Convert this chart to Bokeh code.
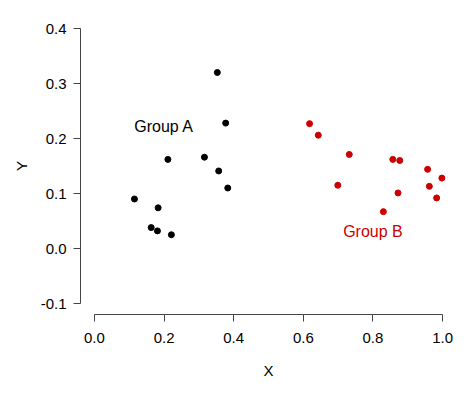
from bokeh.plotting import figure
from bokeh.models import Range1d, FixedTicker
from bokeh.core.properties import value
from bokeh.embed import file_html
from bokeh.resources import INLINE

# Data
group_a_x = [0.353, 0.377, 0.211, 0.316, 0.357, 0.383, 0.115, 0.183, 0.163, 0.181, 0.221]
group_a_y = [0.320, 0.228, 0.162, 0.166, 0.141, 0.110, 0.090, 0.074, 0.038, 0.032, 0.025]
group_b_x = [0.618, 0.643, 0.732, 0.699, 0.857, 0.877, 0.872, 0.830, 0.957, 0.962, 0.998, 0.983]
group_b_y = [0.227, 0.206, 0.171, 0.115, 0.162, 0.160, 0.101, 0.067, 0.144, 0.113, 0.128, 0.092]
labels = ["Group A", "Group B"]
label_x = [0.2, 0.8]
label_y = [0.221, 0.031]
x_ticks = [0.0, 0.2, 0.4, 0.6, 0.8, 1.0]
x_tick_labels = ["0.0", "0.2", "0.4", "0.6", "0.8", "1.0"]
y_ticks = [-0.1, 0.0, 0.1, 0.2, 0.3, 0.4]
y_tick_labels = ["-0.1", "0.0", "0.1", "0.2", "0.3", "0.4"]

FONT = "Liberation Sans"
AXIS_COLOR = "#444444"
RED = "#CC0000"

p = figure(width=466, height=387, output_backend="svg", toolbar_location=None,
           x_range=Range1d(-0.04, 1.04), y_range=Range1d(-0.12, 0.42),
           min_border_left=80, min_border_right=10, min_border_top=17, min_border_bottom=73)
p.outline_line_color = None
p.grid.visible = False
p.background_fill_color = "white"
p.border_fill_color = "white"

for ax, ticks, tl, name in [(p.xaxis[0], x_ticks, x_tick_labels, "X"),
                            (p.yaxis[0], y_ticks, y_tick_labels, "Y")]:
    ax.ticker = FixedTicker(ticks=ticks)
    ax.major_label_overrides = {t: l for t, l in zip(ticks, tl)}
    ax.bounds = (ticks[0], ticks[-1])
    ax.axis_line_color = AXIS_COLOR
    ax.major_tick_line_color = AXIS_COLOR
    ax.major_tick_out = 7
    ax.major_tick_in = 0
    ax.minor_tick_line_color = None
    ax.major_label_text_font = FONT
    ax.major_label_text_font_size = "15px"
    ax.major_label_text_color = "black"
    ax.axis_label = name
    ax.axis_label_text_font = FONT
    ax.axis_label_text_font_size = "15px"
    ax.axis_label_text_font_style = "normal"
    ax.axis_label_text_color = "black"

p.xaxis[0].major_label_standoff = 11
p.xaxis[0].axis_label_standoff = 16
p.yaxis[0].major_label_standoff = 7
p.yaxis[0].axis_label_standoff = 8

p.scatter(group_a_x, group_a_y, size=6, color="black")
p.scatter(group_b_x, group_b_y, size=6, color=RED)

p.text(label_x[:1], label_y[:1], text=labels[:1], text_align="center", text_baseline="middle",
       text_font=value(FONT), text_font_size="16px", text_color="black")
p.text(label_x[1:], label_y[1:], text=labels[1:], text_align="center", text_baseline="middle",
       text_font=value(FONT), text_font_size="16px", text_color=RED)

open("out.html", "w").write(file_html(p, INLINE))
